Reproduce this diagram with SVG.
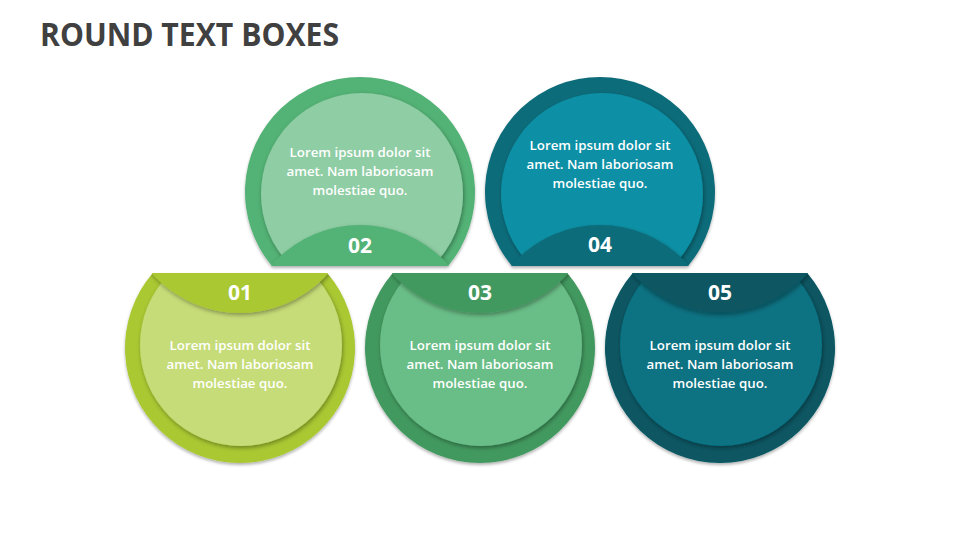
<svg xmlns="http://www.w3.org/2000/svg" xmlns:xlink="http://www.w3.org/1999/xlink" width="960" height="540" viewBox="0 0 960 540">
  <style>
    .title { font-family: "Open Sans", "Liberation Sans", sans-serif; font-weight: 700; font-size: 32px; fill: #404040; }
    .body { font-family: "Open Sans", "Liberation Sans", sans-serif; font-weight: 600; font-size: 13.3px; fill: #ffffff; text-anchor: middle; }
    .num { font-family: "Open Sans", "Liberation Sans", sans-serif; font-weight: 700; font-size: 21px; fill: #ffffff; text-anchor: middle; }
  </style>
  <defs>
    <filter id="sh" x="-20%" y="-20%" width="140%" height="140%">
      <feDropShadow dx="1" dy="2" stdDeviation="2" flood-color="#000" flood-opacity="0.35"/>
    </filter>
    <filter id="shOuter" x="-20%" y="-20%" width="140%" height="140%">
      <feDropShadow dx="0" dy="2" stdDeviation="1.5" flood-color="#000" flood-opacity="0.3"/>
    </filter>
    <path id="s01" d="M152.8 273 A115 115 0 1 0 327.2 273 Z"/>
    <path id="s03" d="M392.8 273 A115 115 0 1 0 567.2 273 Z"/>
    <path id="s05" d="M632.8 273 A115 115 0 1 0 807.2 273 Z"/>
    <path id="s02" d="M272 266 A115 115 0 1 1 448 266 Z"/>
    <path id="s04" d="M512 266 A115 115 0 1 1 688 266 Z"/>
    <clipPath id="c01"><use xlink:href="#s01"/></clipPath>
    <clipPath id="c02"><use xlink:href="#s02"/></clipPath>
    <clipPath id="c03"><use xlink:href="#s03"/></clipPath>
    <clipPath id="c04"><use xlink:href="#s04"/></clipPath>
    <clipPath id="c05"><use xlink:href="#s05"/></clipPath>
  </defs>

  <rect width="960" height="540" fill="#ffffff"/>
  <text class="title" x="40" y="46" textLength="299" lengthAdjust="spacingAndGlyphs">ROUND TEXT BOXES</text>

  <g id="connectors"/>

  <g id="node-02">
    <use xlink:href="#s02" fill="#52B274" filter="url(#shOuter)"/>
    <g clip-path="url(#c02)">
      <circle cx="362" cy="194" r="101" fill="#8FCDA4" filter="url(#sh)"/>
      <circle cx="360" cy="343" r="118" fill="#52B274" filter="url(#sh)"/>
    </g>
    <text class="body" x="360" y="157">Lorem ipsum dolor sit</text>
    <text class="body" x="360" y="176">amet. Nam laboriosam</text>
    <text class="body" x="360" y="195">molestiae quo.</text>
    <text class="num" x="360" y="253">02</text>
  </g>

  <g id="node-04">
    <use xlink:href="#s04" fill="#0D6C7A" filter="url(#shOuter)"/>
    <g clip-path="url(#c04)">
      <circle cx="602" cy="194" r="101" fill="#0B90A5" filter="url(#sh)"/>
      <circle cx="600" cy="343" r="118" fill="#0D6C7A" filter="url(#sh)"/>
    </g>
    <text class="body" x="600" y="150">Lorem ipsum dolor sit</text>
    <text class="body" x="600" y="169">amet. Nam laboriosam</text>
    <text class="body" x="600" y="188">molestiae quo.</text>
    <text class="num" x="600" y="252">04</text>
  </g>

  <g id="node-01">
    <use xlink:href="#s01" fill="#A9C832" filter="url(#shOuter)"/>
    <g clip-path="url(#c01)">
      <circle cx="241" cy="345" r="101" fill="#C6DC78" filter="url(#sh)"/>
      <circle cx="240" cy="195" r="118" fill="#A9C832" filter="url(#sh)"/>
    </g>
    <text class="num" x="240" y="300">01</text>
    <text class="body" x="240" y="350">Lorem ipsum dolor sit</text>
    <text class="body" x="240" y="369">amet. Nam laboriosam</text>
    <text class="body" x="240" y="388">molestiae quo.</text>
  </g>

  <g id="node-03">
    <use xlink:href="#s03" fill="#42995F" filter="url(#shOuter)"/>
    <g clip-path="url(#c03)">
      <circle cx="481" cy="345" r="101" fill="#69BD86" filter="url(#sh)"/>
      <circle cx="480" cy="195" r="118" fill="#42995F" filter="url(#sh)"/>
    </g>
    <text class="num" x="480" y="300">03</text>
    <text class="body" x="480" y="350">Lorem ipsum dolor sit</text>
    <text class="body" x="480" y="369">amet. Nam laboriosam</text>
    <text class="body" x="480" y="388">molestiae quo.</text>
  </g>

  <g id="node-05">
    <use xlink:href="#s05" fill="#075662" filter="url(#shOuter)"/>
    <g clip-path="url(#c05)">
      <circle cx="721" cy="345" r="101" fill="#087282" filter="url(#sh)"/>
      <circle cx="720" cy="195" r="118" fill="#075662" filter="url(#sh)"/>
    </g>
    <text class="num" x="720" y="300">05</text>
    <text class="body" x="720" y="350">Lorem ipsum dolor sit</text>
    <text class="body" x="720" y="369">amet. Nam laboriosam</text>
    <text class="body" x="720" y="388">molestiae quo.</text>
  </g>
</svg>
